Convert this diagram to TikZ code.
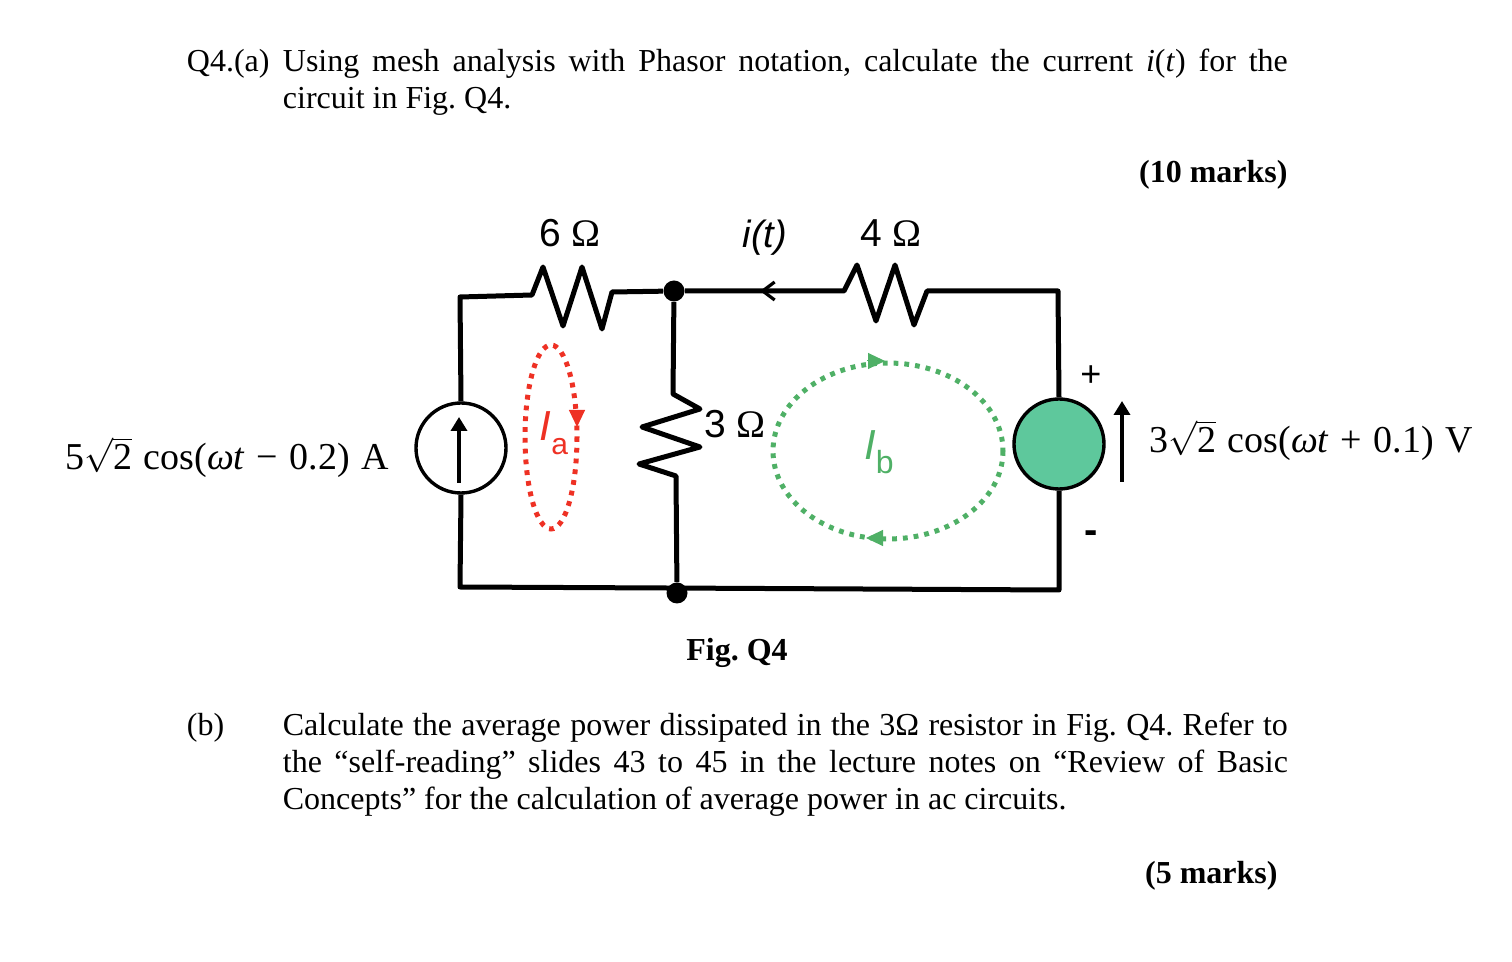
\documentclass[tikz,border=0pt]{standalone}
\usepackage{amsmath}
\usepackage{fontspec}
\setmainfont{Liberation Serif}
\setsansfont{Liberation Sans}
\frenchspacing
\usetikzlibrary{arrows.meta}
\definecolor{meshred}{HTML}{EE3124}
\definecolor{meshgreen}{HTML}{4FB066}
\definecolor{srcgreen}{HTML}{5EC89C}
\tikzset{
  wire/.style={line width=2.5pt, line join=round},
  junction/.style={circle, fill=black, inner sep=0pt, minimum size=10.5pt},
  srcnode/.style={circle, draw, line width=1.7pt, inner sep=0pt, minimum size=45pt},
  uparrow/.style={-{Triangle[length=7pt,width=8pt]}, line width=2.4pt},
  meshloop/.style={line width=2.5pt, dash pattern=on 2.4pt off 3pt},
  meshtip/.style={-{Triangle[length=8.5pt,width=8pt]}, line width=.5pt},
  bodytext/.style={anchor=base west, font=\fontsize{16}{18.5}\selectfont, inner sep=0pt},
  para/.style={bodytext, text width=502.5pt, align=justify},
  marks/.style={anchor=base east, font=\fontsize{16}{18.5}\selectfont\bfseries, inner sep=0pt},
  elabel/.style={font=\fontsize{19.5}{22}\sffamily, inner sep=0pt},
  mathlabel/.style={font=\fontsize{19}{22}\selectfont, inner sep=0pt}
}
\newcommand{\ohm}{{\rmfamily\symbol{"03A9}}}
\newcommand{\rtwo}{$\sqrt{\mbox{2}}$}
\begin{document}
\begin{tikzpicture}[x=.5pt,y=-.5pt]
  \useasboundingbox (0,0) rectangle (1512,962);

  \node[bodytext] (qa) at (186.5,72) {Q4.(a)};
  \node[para] (qatext) at (282.5,72) {Using mesh analysis with Phasor notation, calculate the current \textit{i}(\textit{t}) for the\linebreak circuit in Fig. Q4.};
  \node[marks] (marksa) at (1288,183) {(10 marks)};

  \coordinate (tl) at (460,297);
  \coordinate (bl) at (460,587);
  \coordinate (tr) at (1058,291);
  \coordinate (br) at (1059,590);
  \coordinate (itip) at (760,291);
  \coordinate (rsix) at (532,295);
  \coordinate (rfour) at (927,291);
  \node[junction] (jtop) at (674,291) {};
  \node[junction] (jbot) at (677,593) {};
  \node[srcnode] (isrc) at (461,448) {};
  \node[srcnode, fill=srcgreen] (vsrc) at (1059,444) {};

  \draw[wire] (isrc.north) -- (tl) -- (rsix) -- (543,267) -- (563,326) -- (582,267) -- (602,329) -- (612,292) -- (jtop);
  \draw[wire] (isrc.south) -- (bl) -- (jbot.west |- 0,588) -- (br) -- (vsrc.south);
  \draw[wire] (vsrc.north) -- (tr) -- (rfour) -- (914,325) -- (895,265) -- (876,321) -- (857,265) -- (844,291) -- (itip) -- (jtop);
  \draw[wire] (jtop) -- (673,394) -- (700,409) -- (642,427) -- (700,447) -- (639,464) -- (676,476) -- (jbot);
  \draw[line width=1.6pt, -{Straight Barb[length=6pt,width=9pt,line width=1.6pt]}] (775,291) -- (itip);

  \draw[uparrow] (459,483) -- (459,417);
  \draw[line width=2pt, -{Triangle[length=7pt,width=8pt]}] (1122,482) -- (1122,401);

  \begin{scope}[meshred]
    \draw[meshloop] (551,437) ellipse [x radius=26, y radius=92];
    \draw[meshtip] (577,410) -- (577,427);
    \node[elabel, font=\fontsize{21}{24}\sffamily] (ia) at (554,433) {\textit{I}\raisebox{-7pt}{\fontsize{15}{18}\selectfont a}};
  \end{scope}

  \begin{scope}[meshgreen]
    \draw[meshloop] (888,451) ellipse [x radius=115, y radius=88];
    \draw[meshtip] (867,361) -- (885,361);
    \draw[meshtip] (884,538) -- (866,538);
    \node[elabel, font=\fontsize{21}{24}\sffamily] (ib) at (879,452) {\textit{I}\raisebox{-7pt}{\fontsize{16}{18}\selectfont b}};
  \end{scope}

  \node[elabel] (rsixlab) at (570,233) {6 \ohm};
  \node[elabel] (rfourlab) at (891,233) {4 \ohm};
  \node[elabel] (rthreelab) at (735,424) {3 \ohm};
  \node[elabel, font=\fontsize{19}{22}\sffamily\itshape] (ilab) at (765,238) {i(t)};
  \node[elabel, font=\fontsize{18}{20}\sffamily] (plus) at (1091,376) {+};
  \node[elabel, font=\fontsize{20}{22}\sffamily\bfseries] (minus) at (1091,537) {-};

  \node[mathlabel, anchor=base west] (isrclab) at (65,470) {5\rtwo{}\hspace{1pt} cos(\textit{ωt}\hspace{1pt} −\hspace{1pt} 0.2)\hspace{1pt} A};
  \node[mathlabel, anchor=base west] (vsrclab) at (1149,453) {3\rtwo{}\hspace{1pt} cos(\textit{ωt}\hspace{1pt} +\hspace{1pt} 0.1)\hspace{1pt} V};

  \node[marks, anchor=base] (figlab) at (737,661) {Fig. Q4};

  \node[bodytext] (qb) at (186.5,736) {(b)};
  \node[para] (qbtext) at (282.5,736) {Calculate the average power dissipated in the 3\ohm{} resistor in Fig. Q4. Refer to\linebreak the “self-reading” slides 43 to 45 in the lecture notes on “Review of Basic\linebreak Concepts” for the calculation of average power in ac circuits.};
  \node[marks] (marksb) at (1278,884) {(5 marks)};
\end{tikzpicture}
\end{document}
